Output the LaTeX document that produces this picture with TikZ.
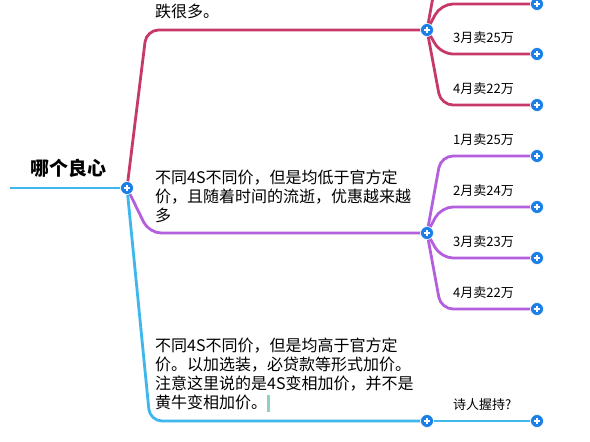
\documentclass[tikz,border=0pt]{standalone}
\usepackage{fontspec}
\setmainfont{Noto Sans CJK SC}
\usetikzlibrary{backgrounds}
\definecolor{cred}{HTML}{C8396B}
\definecolor{cpur}{HTML}{B35FDE}
\definecolor{cblu}{HTML}{3DB7EC}
\definecolor{cdot}{HTML}{1C7FE6}
\definecolor{cbar}{HTML}{8FD0C6}
\tikzset{
  dot/.style={circle, fill=cdot, draw=white, line width=0.6pt, inner sep=0pt, minimum size=13pt,
    path picture={\draw[white, line width=1.7pt]
      ([xshift=-3.4pt]path picture bounding box.center) -- ([xshift=3.4pt]path picture bounding box.center)
      ([yshift=-3.4pt]path picture bounding box.center) -- ([yshift=3.4pt]path picture bounding box.center);}},
  branch/.style={line width=2.8pt, rounded corners=12pt},
  body/.style={anchor=north west, inner sep=0pt, align=left, font=\fontsize{16}{18.8}\selectfont},
  lab/.style={anchor=west, inner sep=0pt, font=\fontsize{13}{15}\selectfont},
}
\begin{document}
\begin{tikzpicture}[x=1pt,y=-1pt]
\useasboundingbox (0,0) rectangle (590,442);
\clip (0,0) rectangle (590,442);
% nodes
\node[dot] (r) at (127,188) {};
\node[anchor=north west, inner sep=0pt, font=\fontsize{19}{22}\selectfont\bfseries] (root) at (30,158.5) {哪个良心};
\coordinate (l) at (10,188);
% branch 1
\node[dot] (a) at (427,30) {};
\node[dot] (a1) at (537,-47) {};
\node[dot] (a2) at (537,4) {};
\node[dot] (a3) at (537,54) {};
\node[dot] (a4) at (537,105) {};
\node[body] (ta) at (155,4) {跌很多。};
\node[lab] (la3) at (453,38) {3月卖25万};
\node[lab] (la4) at (453,89) {4月卖22万};
% branch 2
\node[dot] (b) at (427,233) {};
\node[dot] (b1) at (537,156) {};
\node[dot] (b2) at (537,207) {};
\node[dot] (b3) at (537,258) {};
\node[dot] (b4) at (537,309) {};
\node[body] (tb) at (155,170) {不同4S不同价，但是均低于官方定\\价，且随着时间的流逝，优惠越来越\\多};
\node[lab] (lb1) at (453,140) {1月卖25万};
\node[lab] (lb2) at (453,191) {2月卖24万};
\node[lab] (lb3) at (453,242) {3月卖23万};
\node[lab] (lb4) at (453,293) {4月卖22万};
% branch 3
\node[dot] (c) at (427,421) {};
\node[dot] (c1) at (537,421) {};
\node[body] (tc) at (155,338) {不同4S不同价，但是均高于官方定\\价。以加选装，必贷款等形式加价。\\注意这里说的是4S变相加价，并不是\\黄牛变相加价。};
\node[lab] (lc1) at (453,405) {诗人握持?};
\fill[cbar] (267,395) rectangle (270,412);
% connectors
\begin{scope}[on background layer]
\fill[white] (0,0) rectangle (590,442);
\draw[cblu, line width=2.8pt] (l) -- (r.center);
\draw[branch, cred] (r.center) -- (146.5,30) -- (a.center);
\draw[branch, cpur] (r.center) -- (149,233) -- (b.center);
\draw[branch, cblu] (r.center) -- (150,421) -- (c.center);
\draw[cblu, line width=2.8pt] (c.center) -- (c1.center);
\foreach \t in {1,2,3,4} {
  \draw[branch, cred] (a.center) -- (a\t.center -| 441,0) -- (a\t.center);
  \draw[branch, cpur] (b.center) -- (b\t.center -| 441,0) -- (b\t.center);
}
\end{scope}
\end{tikzpicture}
\end{document}
